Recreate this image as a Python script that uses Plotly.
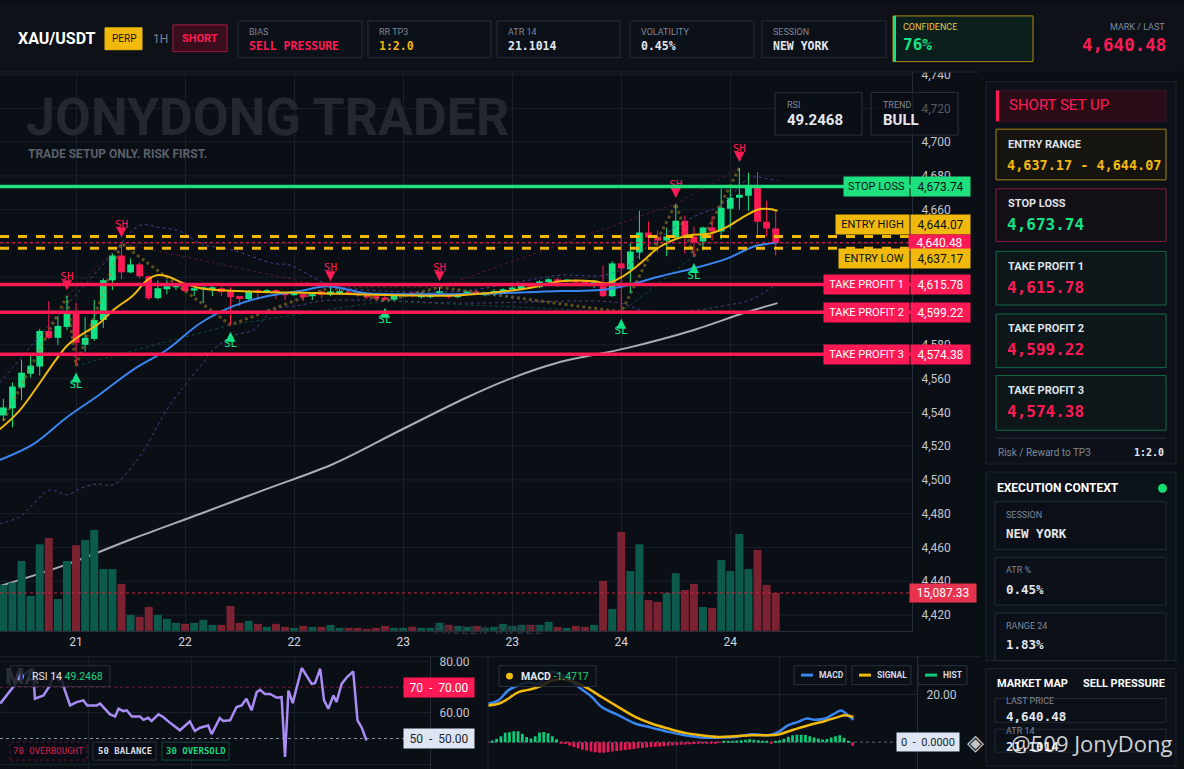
import plotly.graph_objects as go

W, H = 1184, 769

# ---------------- data ----------------
# 1H candles, bar index 0..85
opens = [4538.2, 4542.4, 4554.7, 4562.9, 4567.1, 4588.2, 4584.1, 4590.6, 4600.0, 4580.0,
         4583.5, 4594.7, 4618.2, 4632.9, 4622.9, 4627.6, 4620.6, 4607.6, 4612.9, 4614.1,
         4615.9, 4612.4, 4612.9, 4612.9, 4613.5, 4611.8, 4608.8, 4607.1, 4612.4, 4611.2,
         4612.4, 4610.6, 4609.4, 4610.0, 4608.8, 4611.6, 4609.6, 4610.0, 4611.2, 4611.0,
         4609.8, 4608.8, 4608.0, 4606.7, 4608.8, 4610.6, 4608.2, 4608.2, 4610.6, 4609.4,
         4608.2, 4610.0, 4611.5, 4609.4, 4610.0, 4611.2, 4612.9, 4612.9, 4615.3, 4614.1,
         4617.1, 4618.8, 4617.6, 4618.2, 4617.6, 4616.5, 4614.7, 4608.8, 4628.2, 4624.7,
         4634.7, 4646.5, 4644.1, 4641.8, 4643.5, 4653.5, 4644.1, 4641.2, 4649.4, 4647.1,
         4660.6, 4667.1, 4668.2, 4674.1, 4652.9, 4648.8]
highs = [4548.0, 4557.6, 4571.2, 4573.5, 4589.4, 4605.9, 4597.1, 4608.8, 4604.7, 4596.5,
         4606.5, 4619.4, 4634.1, 4640.0, 4631.2, 4628.8, 4621.0, 4618.2, 4618.2, 4616.5,
         4616.5, 4614.7, 4614.5, 4615.3, 4614.1, 4614.1, 4609.0, 4612.4, 4613.0, 4613.0,
         4613.0, 4611.2, 4611.2, 4610.6, 4610.6, 4612.5, 4614.1, 4613.0, 4612.4, 4611.8,
         4610.6, 4609.4, 4609.0, 4609.6, 4611.0, 4611.5, 4611.0, 4610.8, 4614.1, 4610.0,
         4610.6, 4612.1, 4612.4, 4611.2, 4612.9, 4613.5, 4614.7, 4615.9, 4616.5, 4618.2,
         4619.4, 4619.8, 4618.8, 4618.8, 4618.2, 4618.2, 4627.0, 4629.4, 4645.3, 4640.0,
         4659.4, 4653.0, 4647.6, 4649.4, 4663.5, 4656.5, 4650.0, 4650.0, 4655.9, 4672.4,
         4672.4, 4684.7, 4681.8, 4682.4, 4665.3, 4659.4]
lows = [4535.0, 4531.2, 4547.1, 4560.6, 4561.8, 4583.5, 4580.0, 4588.8, 4567.6, 4575.9,
        4582.4, 4590.0, 4612.4, 4618.8, 4622.4, 4619.4, 4606.5, 4607.0, 4610.0, 4612.4,
        4611.2, 4608.8, 4604.7, 4608.8, 4608.8, 4591.8, 4602.9, 4606.5, 4606.5, 4610.6,
        4607.1, 4606.5, 4609.0, 4605.9, 4606.5, 4607.5, 4608.8, 4609.4, 4609.4, 4608.5,
        4607.1, 4606.5, 4606.0, 4606.2, 4608.2, 4608.2, 4607.4, 4607.6, 4609.8, 4607.6,
        4607.6, 4609.4, 4610.3, 4608.8, 4609.4, 4610.6, 4612.4, 4612.4, 4613.5, 4613.5,
        4616.5, 4614.1, 4617.1, 4616.5, 4615.9, 4613.5, 4608.2, 4608.2, 4599.4, 4610.6,
        4630.6, 4636.5, 4634.7, 4632.4, 4642.4, 4634.1, 4632.4, 4635.9, 4641.8, 4642.4,
        4648.8, 4660.0, 4659.4, 4642.9, 4644.1, 4632.9]
closes = [4542.9, 4555.3, 4563.5, 4567.6, 4588.2, 4584.1, 4591.2, 4600.0, 4581.2, 4584.1,
          4594.7, 4618.2, 4632.9, 4622.9, 4627.6, 4620.6, 4607.6, 4613.5, 4614.7, 4615.9,
          4611.8, 4613.5, 4614.1, 4614.1, 4611.2, 4608.2, 4607.1, 4611.8, 4611.2, 4612.4,
          4610.6, 4609.4, 4610.6, 4608.2, 4610.0, 4609.6, 4611.6, 4611.8, 4610.0, 4609.4,
          4608.2, 4607.4, 4607.0, 4609.0, 4610.0, 4609.0, 4610.3, 4610.0, 4611.8, 4608.2,
          4610.0, 4611.5, 4610.9, 4610.6, 4611.8, 4612.9, 4613.5, 4615.3, 4614.7, 4617.6,
          4618.8, 4617.6, 4618.2, 4617.1, 4616.5, 4617.1, 4608.8, 4628.2, 4625.3, 4635.3,
          4646.5, 4643.5, 4641.8, 4644.1, 4653.5, 4643.5, 4640.6, 4649.4, 4647.1, 4661.2,
          4667.1, 4668.8, 4674.1, 4652.9, 4648.8, 4640.48]
volumes = [18300, 19200, 27800, 13900, 34500, 36900, 12700, 27800, 34100, 36100,
           40100, 24600, 24600, 18700, 6400, 5600, 9500, 6400, 4800, 3200,
           2800, 3200, 4400, 2400, 2400, 9900, 3200, 4000, 2800, 1600,
           2800, 1600, 1200, 2000, 1600, 1600, 2400, 1200, 1200, 1200,
           800, 1200, 2000, 1200, 1200, 1600, 1200, 1200, 3200, 2400,
           2000, 1600, 2000, 1200, 1600, 2800, 2000, 2400, 2400, 2400,
           3600, 1600, 1200, 2000, 1600, 2400, 19900, 8700, 39300, 23800,
           34500, 12300, 11500, 15100, 23000, 16300, 18700, 9500, 9100, 28200,
           23800, 38500, 24600, 32200, 18300, 15087.33]

date_ticks = [8, 20, 32, 44, 56, 68, 80]
date_labels = ["21", "22", "22", "23", "23", "24", "24"]
price_ticks = [4420, 4440, 4460, 4480, 4500, 4520, 4540, 4560, 4580, 4660, 4680, 4700, 4720, 4740]

swing_high_idx = [7, 13, 36, 48, 74, 81]
swing_low_idx = [8, 25, 42, 68, 76]
zigzag_idx = [0, 7, 8, 13, 25, 36, 42, 48, 68, 74, 76, 81]
zigzag_kind = ["L", "H", "L", "H", "L", "H", "L", "H", "L", "H", "L", "H"]

# moving averages / bands (bar index, price)
ema_fast_x = [-0.4, 1.8, 7, 8.4, 10.6, 12.1, 14.3, 15.8, 16.9, 18, 19.8, 21.7, 26, 34.9, 43.7,
              50.3, 57.7, 61.3, 65, 66.5, 68.2, 70.1, 72.3, 75.3, 77.8, 79.7, 81.5, 83, 84.1, 85.2]
ema_fast_y = [4530.0, 4541.2, 4579.4, 4585.3, 4592.9, 4600.6, 4609.4, 4618.2, 4621.2, 4620.6,
              4616.5, 4613.5, 4611.8, 4610.6, 4609.4, 4609.4, 4613.5, 4617.6, 4617.6, 4616.5,
              4620.6, 4628.2, 4638.2, 4644.7, 4645.9, 4650.0, 4655.9, 4660.0, 4660.6, 4659.4]
ema_mid_x = [-0.4, 3.3, 7, 10.6, 14.3, 18, 21.7, 25.3, 29, 32.7, 35.6, 40, 47.3, 54.7, 61.3,
             65.7, 68.7, 72.3, 76, 79.7, 82.6, 85.2]
ema_mid_y = [4511.8, 4521.2, 4537.1, 4550.6, 4565.3, 4577.1, 4592.9, 4602.9, 4608.8, 4611.8,
             4614.7, 4610.6, 4610.0, 4610.6, 4611.8, 4612.4, 4615.3, 4620.6, 4625.3, 4631.2,
             4638.2, 4640.6]
ema_slow_x = [-0.4, 7, 14.3, 21.7, 29, 36.3, 43.7, 51, 56.1, 61, 68.7, 76, 81.5, 85.2]
ema_slow_y = [4437.1, 4450.0, 4465.3, 4480.0, 4494.7, 4509.4, 4529.4, 4548.8, 4560.6, 4569.4,
              4578.2, 4588.8, 4598.8, 4604.7]
bb_up_x = [-0.4, 5.1, 11.8, 15, 17.2, 19.5, 21.7, 25.3, 29.7, 31.6, 34.9, 36.3, 40, 50.3, 57.7,
           61.3, 66, 68.7, 70.9, 76, 78.9, 81.9, 82.6, 85.2]
bb_up_y = [4557.6, 4592.0, 4632.4, 4650.6, 4649.4, 4647.1, 4640.0, 4635.9, 4628.2, 4627.1,
           4617.6, 4615.3, 4612.4, 4611.8, 4618.2, 4621.2, 4621.2, 4626.5, 4638.2, 4655.9,
           4662.4, 4678.2, 4679.4, 4677.1]
bb_lo_x = [-0.4, 1.8, 3.3, 5.1, 7, 8.4, 10.3, 12.1, 14.3, 15.8, 18, 20.2, 22, 23.1, 25.3, 27.5,
           29.7, 32.7, 34.9, 40, 50.3, 65, 67.9, 70.9, 75.3, 79.7, 82.2, 85.2]
bb_lo_y = [4474.1, 4478.2, 4485.9, 4494.1, 4491.2, 4494.7, 4497.6, 4497.1, 4508.8, 4520.6,
           4541.8, 4557.6, 4569.4, 4577.1, 4585.3, 4588.8, 4600.6, 4603.5, 4605.9, 4606.5,
           4604.7, 4605.9, 4604.7, 4599.4, 4600.0, 4603.5, 4606.5, 4616.5]

# trade levels
stop_loss = 4673.74
entry_high = 4644.07
entry_low = 4637.17
last_price = 4640.48
tp_levels = [4615.78, 4599.22, 4574.38]
tp_names = ["TAKE PROFIT 1", "TAKE PROFIT 2", "TAKE PROFIT 3"]

# RSI 14
rsi_x = [-0.5, 3.4, 6.1, 7.2, 7.6, 9.6, 11.1, 12.3, 13.1, 13.8, 14.6, 15.8, 17.3, 18.9, 19.8,
         22, 22.8, 25.1, 26.3, 27.1, 28.2, 29, 30.2, 32.1, 32.9, 34, 34.8, 36.4, 37.5, 39.1,
         41.4, 43.7, 44.9, 46.1, 48, 48.8, 50.7, 51.5, 53.1, 54.6, 55.8, 56.9, 58.1, 59.3,
         60.1, 61.2, 62.4, 64, 65.1, 65.9, 66.7, 67.7, 69.8, 72.1, 72.9, 74.1, 75, 76, 77.2,
         77.9, 79.1, 80.3, 81.8, 82.8, 83.8, 84.9]
rsi_y = [63.6, 72.0, 76.5, 75.9, 65.5, 66.8, 70.7, 75.9, 72.6, 73.3, 68.7, 62.9, 64.2, 64.9, 62.9,
         62.9, 63.6, 59.4, 58.6, 61.6, 60.7, 61.0, 58.6, 58.6, 57.3, 58.1, 56.8, 59.4, 58.4, 56.1,
         53.2, 56.6, 52.9, 54.2, 55.1, 51.7, 58.0, 56.8, 57.1, 62.3, 62.9, 65.5, 61.0, 68.1,
         69.0, 67.4, 67.4, 65.9, 66.1, 42.8, 68.7, 63.8, 77.5, 71.3, 71.6, 77.2, 64.9, 61.6, 66.8,
         64.2, 71.3, 73.9, 76.2, 57.1, 54.2, 49.2]

# MACD
macd_x = [0, 2.4, 4.7, 7.1, 9.4, 11.7, 14.1, 15.6, 18, 21.1, 24.2, 26.5, 30.4, 34.3, 38.1, 42,
          45.9, 49.8, 53.7, 57.6, 61.5, 65.4, 67.7, 70, 72.3, 74.3, 76.2, 78.6, 80.5, 82.3,
          83.6, 85.2]
macd_y = [16.1, 17.5, 21.7, 23.8, 25.1, 24.4, 28.9, 29.3, 27.2, 23.1, 18.9, 14.7, 11.3, 7.8,
          6.1, 4.3, 2.9, 1.9, 1.9, 2.2, 3.3, 2.9, 4.3, 7.1, 8.5, 9.9, 9.4, 9.9, 11.7, 13.3,
          11.7, 9.4]
signal_x = [0, 2.4, 4.7, 7.1, 9.4, 11.7, 14.8, 17.2, 20.3, 23.4, 26.5, 30.4, 34.3, 38.1, 42,
            45.9, 49.8, 53.7, 57.6, 61.5, 65.4, 67.7, 70.8, 74.7, 78.6, 81.7, 83.2, 85.2]
signal_y = [15.4, 16.1, 18.2, 21.0, 21.9, 23.1, 25.8, 26.5, 25.1, 22.4, 18.9, 14.7, 10.6, 7.8,
            5.7, 3.9, 2.9, 2.2, 2.5, 2.9, 2.9, 3.2, 5.0, 7.1, 8.9, 10.6, 11.3, 10.6]
hist = [-0.2, 0.7, 1.4, 2.5, 3.9, 4.2, 4.6, 4.6, 3.5, 2.2, 1.5, 2.5, 4.0, 4.3, 3.7, 2.5, 1.2,
        -0.3, -0.8, -1.4, -2.0, -2.6, -3.2, -3.5, -3.9, -4.2, -4.4, -4.4, -4.2, -3.9, -3.7, -3.5,
        -3.3, -3.1, -2.9, -2.6, -2.4, -2.2, -2.0, -1.9, -1.8, -1.7, -1.5, -1.4, -1.3, -1.1, -1.0,
        -0.9, -0.8, -0.7, -0.6, -0.5, -0.4, -0.3, -0.2, 0.2, 0.3, 0.5, 0.7, 0.8, 1.0, 1.2, 1.0,
        0.8, 0.6, 0.4, -0.4, 0.3, 0.8, 1.4, 2.3, 2.9, 3.1, 3.1, 3.0, 2.5, 1.9, 1.5, 1.1, 1.3,
        1.9, 2.5, 2.9, 1.8, 0.4, -1.4717]

# ---------------- styling ----------------
BG = "#0a0e15"
GRID = "#1a202a"
GREEN = "#13e384"
RED = "#ff1a55"
YELLOW = "#f0b90b"
BLUE = "#3a86f0"
TXT = "#e4e7ee"
MUTED = "#7f8797"
SANS = "Roboto"
MONO = "DejaVu Sans Mono"


def px(x):
    return x / W


def py(y):
    return 1 - y / H


shapes = []
notes = []


def box(x0, y0, x1, y1, fill, border, width=1, dash=None):
    line = dict(color=border, width=width)
    if dash:
        line["dash"] = dash
    shapes.append(dict(type="rect", xref="paper", yref="paper", x0=px(x0), x1=px(x1),
                       y0=py(y1), y1=py(y0), fillcolor=fill, line=line, layer="above"))


def text(x, y, s, size, color, family=SANS, anchor="left"):
    notes.append(dict(xref="paper", yref="paper", x=px(x), y=py(y), text=s, showarrow=False,
                      xanchor=anchor, yanchor="middle",
                      font=dict(size=size, color=color, family=family)))


idx = list(range(len(opens)))
up = [c >= o for o, c in zip(opens, closes)]

fig = go.Figure()

# volume
fig.add_trace(go.Bar(x=idx, y=volumes, width=0.88, yaxis="y2",
                     marker=dict(color=["#0b5a4b" if u else "#7a2231" for u in up], line_width=0),
                     hoverinfo="skip"))

# slow ema + bands
fig.add_trace(go.Scatter(x=ema_slow_x, y=ema_slow_y, mode="lines", line=dict(color="#a9adb6", width=2, shape="spline")))
fig.add_trace(go.Scatter(x=bb_up_x, y=bb_up_y, mode="lines", line=dict(color="#4a3f8c", width=1, dash="dot", shape="spline")))
fig.add_trace(go.Scatter(x=bb_lo_x, y=bb_lo_y, mode="lines", line=dict(color="#4a3f8c", width=1, dash="dot", shape="spline")))

# swing trend lines
hx = list(swing_high_idx)
hy = [highs[i] for i in swing_high_idx]
lx = list(swing_low_idx)
ly = [lows[i] for i in swing_low_idx]
fig.add_trace(go.Scatter(x=hx, y=hy, mode="lines", line=dict(color="#5a1830", width=1, dash="dot")))
fig.add_trace(go.Scatter(x=lx, y=ly, mode="lines", line=dict(color="#0f4a34", width=1, dash="dot")))
zy = [highs[i] if k == "H" else lows[i] for i, k in zip(zigzag_idx, zigzag_kind)]
fig.add_trace(go.Scatter(x=zigzag_idx, y=zy, mode="lines",
                         line=dict(color="rgba(160,130,40,0.55)", width=3, dash="dot")))

# candles: wicks + bodies
for want, col in ((True, GREEN), (False, RED)):
    wx, wy = [], []
    for i in idx:
        if up[i] == want:
            wx += [i, i, None]
            wy += [lows[i], highs[i], None]
    fig.add_trace(go.Scatter(x=wx, y=wy, mode="lines", line=dict(color=col, width=1), hoverinfo="skip"))
fig.add_trace(go.Bar(x=idx, y=[max(abs(c - o), 0.6) for o, c in zip(opens, closes)],
                     base=[min(o, c) for o, c in zip(opens, closes)], width=0.74,
                     marker=dict(color=[GREEN if u else RED for u in up], line_width=0)))

# fast / mid ema
fig.add_trace(go.Scatter(x=ema_mid_x, y=ema_mid_y, mode="lines", line=dict(color=BLUE, width=2, shape="spline")))
fig.add_trace(go.Scatter(x=ema_fast_x, y=ema_fast_y, mode="lines", line=dict(color=YELLOW, width=2, shape="spline")))

# swing markers
fig.add_trace(go.Scatter(x=swing_high_idx, y=[highs[i] + 3.5 for i in swing_high_idx], mode="markers+text",
                         marker=dict(symbol="arrow-down", size=10, color=RED), text=["SH"] * len(swing_high_idx),
                         textposition="top center", textfont=dict(color=RED, size=11, family=MONO)))
fig.add_trace(go.Scatter(x=swing_low_idx, y=[lows[i] - 4 for i in swing_low_idx], mode="markers+text",
                         marker=dict(symbol="arrow-up", size=10, color=GREEN), text=["SL"] * len(swing_low_idx),
                         textposition="bottom center", textfont=dict(color=GREEN, size=11, family=MONO)))

# RSI
fig.add_trace(go.Scatter(x=rsi_x, y=rsi_y, xaxis="x2", yaxis="y3", mode="lines",
                         line=dict(color="#a98cf4", width=2.5)))

# MACD
fig.add_trace(go.Bar(x=idx, y=hist, xaxis="x3", yaxis="y4", width=0.65,
                     marker=dict(color=["#10c97a" if h >= 0 else "#e8195a" for h in hist], line_width=0)))
fig.add_trace(go.Scatter(x=macd_x, y=macd_y, xaxis="x3", yaxis="y4", mode="lines",
                         line=dict(color=BLUE, width=2.5, shape="spline")))
fig.add_trace(go.Scatter(x=signal_x, y=signal_y, xaxis="x3", yaxis="y4", mode="lines",
                         line=dict(color=YELLOW, width=2.5, shape="spline")))


# ---------- level lines on the price chart ----------
def hline(y, color, width, dash="solid", yref="y"):
    shapes.append(dict(type="line", xref="x domain", yref=yref, x0=0, x1=1, y0=y, y1=y,
                       line=dict(color=color, width=width, dash=dash), layer="above"))


hline(stop_loss, "#1ee07f", 3.5)
for t in tp_levels:
    hline(t, RED, 3.5)
hline(entry_high, YELLOW, 3, "dash")
hline(entry_low, YELLOW, 3, "dash")
hline(last_price, RED, 1, "dot")
hline(volumes[-1], "#c0283f", 1, "dot", yref="y2")


def tag(y, s, x_right, w, h, bg, fg, anchor="middle", yshift=0, yref="y", size=11, family=SANS):
    notes.append(dict(xref="paper", yref=yref, x=px(x_right), y=y, xanchor="right", yanchor=anchor,
                      yshift=yshift, text=s, showarrow=False, width=w, height=h, bgcolor=bg,
                      borderpad=0, align="center", font=dict(size=size, color=fg, family=family)))


DARK = "#0b0f16"
tag(stop_loss, "STOP LOSS", 910, 65, 19, "#1ee07f", DARK)
tag(stop_loss, f"{stop_loss:,.2f}", 971, 59, 19, "#1ee07f", DARK, size=12)
tag(entry_high, "ENTRY HIGH", 910, 73, 19, YELLOW, DARK, anchor="bottom", yshift=2)
tag(entry_high, f"{entry_high:,.2f}", 971, 59, 19, YELLOW, DARK, anchor="bottom", yshift=2, size=12)
tag(last_price, f"{last_price:,.2f}", 971, 61, 15, RED, "#ffffff", size=12)
tag(entry_low, "ENTRY LOW", 910, 70, 19, YELLOW, DARK, anchor="top", yshift=0)
tag(entry_low, f"{entry_low:,.2f}", 971, 59, 19, YELLOW, DARK, anchor="top", yshift=0, size=12)
for t, n in zip(tp_levels, tp_names):
    tag(t, n, 910, 85, 19, RED, "#ffffff")
    tag(t, f"{t:,.2f}", 971, 59, 19, RED, "#ffffff", size=12)
tag(volumes[-1], f"{volumes[-1]:,.2f}", 977, 66, 18, "#e8334f", "#ffffff", yref="y2", size=12)

# watermark texts on chart
text(24, 113, "<b>JONYDONG TRADER</b>", 52, "#23272f")
text(26, 150, "<b>TRADE SETUP ONLY. RISK FIRST.</b>", 12, "#5a606c")
text(487, 630, "<b>F A L L E N   A N G E L</b>", 11, "#2c313a", anchor="center")

# RSI / TREND boxes
box(775, 88, 862, 131, "rgba(10,14,21,0.85)", "#2a303c")
text(785, 101, "RSI", 9, MUTED)
text(785, 116, "<b>49.2468</b>", 15, TXT)
box(871, 88, 958, 131, "rgba(10,14,21,0.6)", "#2a303c")
text(881, 101, "TREND", 9, MUTED)
text(881, 116, "<b>BULL</b>", 15, TXT)

# ---------- header ----------
box(0, 0, W, 67, "#0e1118", "#0e1118")
shapes.append(dict(type="line", xref="paper", yref="paper", x0=0, x1=px(980), y0=py(67.5), y1=py(67.5),
                   line=dict(color="#1e2430", width=1), layer="above"))
text(16, 34, "<b>XAU/USDT</b>", 16, "#ffffff")
shapes.append(dict(type="rect", xref="paper", yref="paper", x0=px(105), x1=px(142), y0=py(45), y1=py(23),
                   fillcolor=YELLOW, line=dict(color=YELLOW, width=1), layer="above"))
text(123.5, 34, "PERP", 10, "#1a1400", anchor="center")
text(151, 34, "1H", 12, "#7b8394")
box(173, 20, 227, 47, "#3a0d1c", "#a01a42")
text(200, 34, "<b>SHORT</b>", 11, RED, anchor="center")

head_cards = [(238, 362, "BIAS", "SELL PRESSURE", RED),
              (368, 491, "RR TP3", "1:2.0", YELLOW),
              (497, 620, "ATR 14", "21.1014", TXT),
              (630, 754, "VOLATILITY", "0.45%", TXT),
              (762, 886, "SESSION", "NEW YORK", TXT)]
for x0, x1, lab, val, col in head_cards:
    box(x0, 16, x1, 53, "#0b1019", "#262d39")
    text(x0 + 9, 27, lab, 9, MUTED)
    text(x0 + 9, 41, f"<b>{val}</b>", 11.5, col, family=MONO)
box(893, 11, 1033, 57, "#0b1f1c", "#b18a12")
shapes.append(dict(type="rect", xref="paper", yref="paper", x0=px(893), x1=px(896), y0=py(57), y1=py(11),
                   fillcolor=GREEN, line=dict(width=0), layer="above"))
text(901, 22, "CONFIDENCE", 9, "#e8c547")
text(901, 40, "<b>76%</b>", 16, GREEN, family=MONO)
text(1167, 22, "MARK / LAST", 9, MUTED, anchor="right")
text(1168, 40, f"<b>{last_price:,.2f}</b>", 17.5, RED, family=MONO, anchor="right")

# ---------- right panel ----------
box(986, 77, 1176, 462, "#0c1119", "#1d2430")
box(996, 86, 1166, 117, "#2a0c19", "#3d1224")
shapes.append(dict(type="rect", xref="paper", yref="paper", x0=px(996), x1=px(999), y0=py(117), y1=py(86),
                   fillcolor=RED, line=dict(width=0), layer="above"))
text(1007, 101, "SHORT SET UP", 15, RED)
panel_cards = [("#a8860f", "#15140f", "ENTRY RANGE", f"{entry_low:,.2f} - {entry_high:,.2f}", YELLOW, 13.5),
               ("#8a1a3b", "#120f16", "STOP LOSS", f"{stop_loss:,.2f}", GREEN, 16)]
for t, n in zip(tp_levels, tp_names):
    panel_cards.append(("#0f6b42", "#0d1619", n, f"{t:,.2f}", RED, 16))
tops = [125, 185, 248, 311, 373]
bots = [176, 238, 302, 365, 428]
for k, (bc, fc, lab, val, col, fs) in enumerate(panel_cards):
    y0, y1 = tops[k], bots[k]
    box(996, y0, 1166, y1, fc, bc)
    text(1006, y0 + 15, f"<b>{lab}</b>", 11, "#dfe3ea")
    text(1005, y0 + 36, f"<b>{val}</b>", fs, col, family=MONO)
shapes.append(dict(type="line", xref="paper", yref="paper", x0=px(996), x1=px(1166), y0=py(436), y1=py(436),
                   line=dict(color="#283040", width=1), layer="above"))
text(996, 450, "Risk / Reward to TP3", 10, MUTED)
text(1166, 450, "<b>1:2.0</b>", 10, TXT, family=MONO, anchor="right")

box(986, 470, 1176, 660, "#0c1219", "#1d2430")
text(995, 486, "<b>EXECUTION CONTEXT</b>", 12, "#ffffff")
shapes.append(dict(type="circle", xref="paper", yref="paper", x0=px(1158), x1=px(1167), y0=py(491), y1=py(482),
                   fillcolor="#14e070", line=dict(width=0), layer="above"))
ctx = [(500, 548, "SESSION", "NEW YORK"), (556, 604, "ATR %", "0.45%"), (612, 660, "RANGE 24", "1.83%")]
for y0, y1, lab, val in ctx:
    box(995, y0, 1166, y1, "#0b1018", "#222a36")
    text(1004, y0 + 13, lab, 9, MUTED)
    text(1004, y0 + 32, f"<b>{val}</b>", 12.5, TXT, family=MONO)

box(986, 668, 1176, 766, "#0c1119", "#1d2430")
text(995, 683, "<b>MARKET MAP</b>", 11, "#ffffff")
text(1167, 683, "<b>SELL PRESSURE</b>", 11, "#ffffff", anchor="right")
box(995, 698, 1166, 722, "#0b1018", "#222a36")
text(1004, 701, "LAST PRICE", 9, MUTED)
text(1004, 716, f"<b>{last_price:,.2f}</b>", 12.5, TXT, family=MONO)
box(995, 729, 1166, 752, "#0b1018", "#222a36")
text(1004, 731, "ATR 14", 9, MUTED)
text(1004, 746, "<b>21.1014</b>", 12.5, TXT, family=MONO)

# ---------- lower panels ----------
shapes.append(dict(type="line", xref="paper", yref="paper", x0=0, x1=px(980), y0=py(656), y1=py(656),
                   line=dict(color="#1e2430", width=1), layer="above"))
shapes.append(dict(type="line", xref="paper", yref="paper", x0=px(488), x1=px(488), y0=0, y1=py(656),
                   line=dict(color="#1e2430", width=1), layer="above"))
shapes.append(dict(type="line", xref="x2 domain", yref="y3", x0=0, x1=1, y0=70, y1=70,
                   line=dict(color="#6a1c38", width=1, dash="dot"), layer="below"))
shapes.append(dict(type="line", xref="x2 domain", yref="y3", x0=0, x1=1, y0=50, y1=50,
                   line=dict(color="#8a909c", width=1, dash="dot"), layer="below"))
shapes.append(dict(type="line", xref="x3 domain", yref="y4", x0=0, x1=1, y0=0, y1=0,
                   line=dict(color="#5d6472", width=1, dash="dot"), layer="below"))

text(3, 676, "<b>MA</b>", 22, "#2a2e37")
box(10, 665, 110, 686, "rgba(12,16,24,0.85)", "#2a303c")
shapes.append(dict(type="circle", xref="paper", yref="paper", x0=px(16), x1=px(24), y0=py(680), y1=py(672),
                   fillcolor="#a98cf4", line=dict(width=0), layer="above"))
text(30, 676, "RSI 14 <span style='color:#19d57f'>49.2468</span>", 10.5, TXT)
box(10, 742, 87, 760, "rgba(10,14,21,0.8)", "#5c1830", dash="dot")
text(48.5, 751, "70 OVERBOUGHT", 9, "#d0204f", family=MONO, anchor="center")
box(93, 742, 156, 760, "rgba(10,14,21,0.8)", "#2a303c")
text(124.5, 751, "<b>50 BALANCE</b>", 9, "#d8dce4", family=MONO, anchor="center")
box(162, 742, 229, 760, "rgba(10,14,21,0.8)", "#0e4d33")
text(195.5, 751, "<b>30 OVERSOLD</b>", 9, "#19d57f", family=MONO, anchor="center")

tag(70, "70  -  70.00", 475, 70, 19, RED, "#ffffff", yref="y3", size=12)
tag(50, "50  -  50.00", 475, 70, 19, "#dde6f2", "#1a1f2a", yref="y3", size=12)

box(499, 665, 596, 686, "rgba(12,16,24,0.85)", "#2a303c")
shapes.append(dict(type="circle", xref="paper", yref="paper", x0=px(506), x1=px(513), y0=py(679), y1=py(672),
                   fillcolor=YELLOW, line=dict(width=0), layer="above"))
text(519, 676, "<b>MACD</b> <span style='color:#19d57f'>-1.4717</span>", 10.5, TXT)
legend_chips = [(794, 846, "MACD", BLUE), (852, 911, "SIGNAL", YELLOW), (918, 967, "HIST", "#10c97a")]
for x0, x1, lab, col in legend_chips:
    box(x0, 665, x1, 684, "rgba(12,16,24,0.85)", "#2a303c")
    shapes.append(dict(type="line", xref="paper", yref="paper", x0=px(x0 + 7), x1=px(x0 + 19),
                       y0=py(674.5), y1=py(674.5), line=dict(color=col, width=3), layer="above"))
    text(x0 + 23, 674.5, f"<b>{lab}</b>", 8.5, "#d8dce4")
tag(0, "0  -  0.0000", 960, 62, 18, "#dde6f2", "#1a1f2a", yref="y4", size=11)

text(975, 742, "◈", 22, "rgba(230,230,230,0.85)", family="DejaVu Sans", anchor="center")
text(1175, 743, "@509 JonyDong", 22, "rgba(255,255,255,0.82)", family="Open Sans", anchor="right")

# ---------- layout ----------
axis_font = dict(size=12, color="#c3c7cf", family=SANS)
fig.update_layout(
    width=W, height=H, margin=dict(l=0, r=0, t=0, b=0),
    paper_bgcolor=BG, plot_bgcolor=BG, showlegend=False, barmode="overlay",
    xaxis=dict(domain=[0, px(912)], range=[-0.37, 100], tickvals=date_ticks, ticktext=date_labels,
               showgrid=True, gridcolor=GRID, zeroline=False, showline=True, linecolor="#262d39",
               tickfont=dict(size=12, color="#d4d7de", family=SANS), ticks="", anchor="y"),
    yaxis=dict(domain=[py(630), py(68)], range=[4410.6, 4741.2], side="right", tickvals=price_ticks,
               tickformat=",", showgrid=False, zeroline=False, showline=True,
               linecolor="#262d39", tickfont=axis_font, ticks="", ticklabelstandoff=6),
    yaxis2=dict(overlaying="y", range=[0, 222000], visible=False),
    xaxis2=dict(domain=[0, px(430)], range=[-0.54, 99.7], anchor="y3", tickvals=[20, 44, 68],
                showticklabels=False, showgrid=True, gridcolor=GRID, zeroline=False, ticks=""),
    yaxis3=dict(domain=[0, py(656)], range=[38.1, 81.9], anchor="x2", side="right",
                tickvals=[40, 60, 80], ticktext=["40.00", "60.00", "80.00"], showgrid=True,
                gridcolor=GRID, zeroline=False, showline=True, linecolor="#262d39",
                tickfont=axis_font, ticks="", ticklabelstandoff=6),
    xaxis3=dict(domain=[px(488), px(917)], range=[0, 100], anchor="y4", tickvals=[44, 68],
                showticklabels=False, showgrid=True, gridcolor=GRID, zeroline=False, ticks=""),
    yaxis4=dict(domain=[0, py(656)], range=[-11.25, 35.8], anchor="x3", side="right",
                tickvals=[20], ticktext=["20.00"], showgrid=True, gridcolor=GRID, zeroline=False,
                showline=True, linecolor="#262d39", tickfont=axis_font, ticks="", ticklabelstandoff=6),
    shapes=shapes, annotations=notes,
)

# horizontal price grid every 20 (kept under the hidden labels too)
for g in range(4420, 4741, 20):
    fig.add_shape(type="line", xref="x domain", yref="y", x0=0, x1=1, y0=g, y1=g,
                  line=dict(color=GRID, width=1), layer="below")

fig.write_html("out.html", config={"displayModeBar": False},
               post_script="document.body.style.margin='0px';")
